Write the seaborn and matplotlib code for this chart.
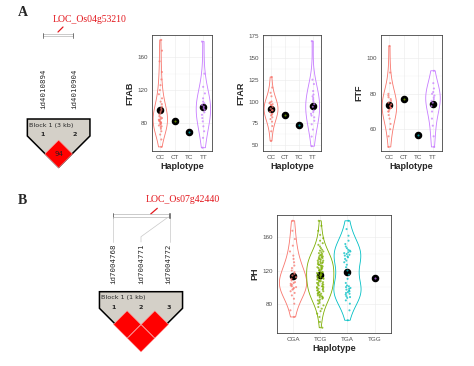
import numpy as np
import pandas as pd
import matplotlib
matplotlib.use("Agg")
import matplotlib.pyplot as plt
import seaborn as sns
from matplotlib.patches import Polygon

# ---- values ----
hap_a = ["CC", "CT", "TC", "TT"]
hap_b = ["CGA", "TCG", "TGA", "TGG"]

ftab_cc = [51, 60, 66, 70, 73, 75, 76, 77, 78, 79, 80, 80, 81, 82, 82, 83, 84, 84, 85, 86,
           87, 88, 90, 92, 94, 96, 98, 100, 103, 106, 110, 115, 120, 126, 133, 142, 155, 168, 181]
ftab_ct = [83]
ftab_tc = [69]
ftab_tt = [50, 62, 70, 76, 82, 86, 90, 93, 96, 98, 100, 102, 104, 106, 110, 116, 124, 140, 179]

ftar_cc = [55, 66, 72, 77, 80, 82, 84, 86, 88, 90, 92, 94, 96, 97, 98, 99, 100, 90, 85, 96,
           106, 110, 116, 128]
ftar_ct = [84.5]
ftar_tc = [73]
ftar_tt = [49, 60, 68, 74, 78, 82, 84, 86, 88, 90, 94, 97, 100, 102, 104, 106, 108, 112,
           120, 125, 169]

ftf_cc = [50, 56, 60, 63, 66, 68, 70, 71, 72, 73, 74, 75, 76, 77, 78, 79, 80, 70, 72, 86, 92, 107]
ftf_ct = [77]
ftf_tc = [57]
ftf_tt = [50, 56, 62, 66, 70, 73, 75, 76, 77, 78, 79, 80, 81, 83, 86, 93]

ph_cga = [64, 72, 80, 86, 90, 93, 95, 97, 98, 99, 100, 101, 102, 103, 104, 105, 106, 108, 110,
          112, 114, 116, 118, 120, 123, 126, 130, 134, 138, 143, 150, 158, 168, 180]
ph_tcg = [51, 58, 64, 68, 71, 74, 76, 78, 80, 81, 83, 84, 85, 86, 87, 88, 88, 89, 90, 90, 91,
          92, 92, 93, 94, 94, 95, 96, 96, 97, 98, 98, 99, 100, 100, 101, 101, 102, 103, 103,
          104, 105, 105, 106, 107, 107, 108, 109, 109, 110, 110, 111, 112, 112, 113, 114, 114,
          115, 115, 116, 117, 117, 118, 118, 119, 120, 120, 121, 121, 122, 123, 123, 124, 124,
          125, 126, 126, 127, 127, 128, 129, 129, 130, 130, 131, 132, 132, 133, 134, 134, 135,
          136, 136, 137, 138, 138, 139, 140, 141, 142, 143, 144, 145, 147, 149, 151, 153, 156,
          159, 163, 168, 174, 180]
ph_tga = [60, 72, 80, 84, 87, 88, 89, 91, 92, 93, 94, 95, 96, 97, 98, 99, 100, 101, 102, 105,
          110, 115, 120, 124, 127, 130, 132, 134, 136, 137, 138, 139, 140, 141, 142, 143, 144,
          145, 147, 149, 152, 156, 162, 170, 180]
ph_tgg = [111.5]

# LD block info
genes = ["LOC_Os04g53210", "LOC_Os07g42440"]
snps_a = ["id4010894", "id4010904"]
snps_b = ["id7004768", "id7004771", "id7004772"]
ld_a = {(0, 1): 94}
ld_b = {(0, 1): 100, (1, 2): 100, (0, 2): 100}

pal_a = dict(zip(hap_a, ["#F8766D", "#7CAE00", "#00BFC4", "#C77CFF"]))
pal_b = dict(zip(hap_b, ["#F8766D", "#7CAE00", "#00BFC4", "#C77CFF"]))


def long_df(order, groups):
    rows = [(h, v) for h, vals in zip(order, groups) for v in vals]
    return pd.DataFrame(rows, columns=["Haplotype", "value"])


def violin_panel(ax, df, order, pal, ylabel, ylim, yticks):
    multi = df.groupby("Haplotype").filter(lambda g: len(g) > 1)
    for v in yticks:
        ax.axhline(v, color="#ececec", lw=0.45, zorder=0)
    for v in np.array(yticks[:-1]) + (yticks[1] - yticks[0]) / 2:
        ax.axhline(v, color="#f5f5f5", lw=0.3, zorder=0)
    for i in range(len(order)):
        ax.axvline(i, color="#ececec", lw=0.45, zorder=0)
    sns.violinplot(data=multi, x="Haplotype", y="value", order=order, hue="Haplotype",
                   hue_order=order, palette=pal, fill=False, inner=None, cut=0,
                   density_norm="width", width=1.0, linewidth=0.6, bw_adjust=1.15,
                   dodge=False, legend=False, ax=ax)
    sns.stripplot(data=df, x="Haplotype", y="value", order=order, hue="Haplotype",
                  hue_order=order, palette=pal, size=1.5, jitter=0.12, alpha=0.75,
                  linewidth=0, legend=False, ax=ax)
    sns.pointplot(data=df, x="Haplotype", y="value", order=order, color="black",
                  errorbar=None, marker="o", linestyle="none", markersize=3.4, ax=ax)
    ax.set_xlim(-0.6, len(order) - 0.4)
    ax.set_ylim(*ylim)
    ax.set_yticks(yticks)
    ax.set_xlabel("Haplotype", fontsize=6.5, fontweight="bold", labelpad=1.5)
    ax.set_ylabel(ylabel, fontsize=6.5, fontweight="bold", labelpad=2)
    ax.tick_params(labelsize=4.5, colors="#4d4d4d", length=1.5, width=0.4, pad=1.5)
    for s in ax.spines.values():
        s.set_color("#444444")
        s.set_linewidth(0.6)


sns.set_theme(style="white")
plt.rcParams["font.family"] = ["Liberation Sans", "DejaVu Sans"]

W, H = 474, 366
fig = plt.figure(figsize=(W / 100, H / 100), dpi=100)


def box(l, t, r, b):
    return [l / W, 1 - b / H, (r - l) / W, (b - t) / H]


ax1 = fig.add_axes(box(151.7, 35, 212, 151))
ax2 = fig.add_axes(box(262.7, 35, 321, 151))
ax3 = fig.add_axes(box(380.7, 35, 441.7, 151))
ax4 = fig.add_axes(box(276.7, 215, 391, 332.7))

violin_panel(ax1, long_df(hap_a, [ftab_cc, ftab_ct, ftab_tc, ftab_tt]), hap_a, pal_a,
             "FTAB", (46, 187), [80, 120, 160])
violin_panel(ax2, long_df(hap_a, [ftar_cc, ftar_ct, ftar_tc, ftar_tt]), hap_a, pal_a,
             "FTAR", (43.5, 176), [50, 75, 100, 125, 150, 175])
violin_panel(ax3, long_df(hap_a, [ftf_cc, ftf_ct, ftf_tc, ftf_tt]), hap_a, pal_a,
             "FTF", (47.7, 113.2), [60, 80, 100])
violin_panel(ax4, long_df(hap_b, [ph_cga, ph_tcg, ph_tga, ph_tgg]), hap_b, pal_b,
             "PH", (45, 187), [80, 120, 160])

# ---- LD block drawings (pixel coordinates of the figure) ----
ov = fig.add_axes([0, 0, 1, 1], zorder=-1)
ov.set_xlim(0, W)
ov.set_ylim(H, 0)
ov.axis("off")

red = "#e3171d"
serif = ["Liberation Serif", "DejaVu Serif"]


def ld_block(letter, letter_xy, gene, gene_xy, slash, track, snps, xs, label_y, top, side,
             ld, block_txt, dia_half):
    ov.text(*letter_xy, letter, fontsize=10, fontweight="bold", family=serif,
            ha="center", va="center")
    ov.text(*gene_xy, gene, fontsize=7, color=red, family=serif, ha="left", va="center")
    ov.plot(slash[0], slash[1], color=red, lw=0.9)
    x0, x1, ty = track
    ov.plot([x0, x1, x1, x0, x0], [ty, ty, ty + 2.2, ty + 2.2, ty], color="#b5b5b5", lw=0.5)
    for x in (x0, x1):
        ov.plot([x, x], [ty - 1.5, ty + 3.5], color="#666666", lw=0.6)
    for x, s in zip(xs, snps):
        ov.text(x, label_y, s, rotation=90, fontsize=5.3,
                family=["DejaVu Sans Mono"], color="#2a2a2a", ha="center", va="center")
    half = (xs[1] - xs[0]) / 2
    left, right = xs[0] - half, xs[-1] + half
    bot = side + (right - left) / 2
    ov.add_patch(Polygon([(left, top), (right, top), (right, side), ((left + right) / 2, bot),
                          (left, side)], closed=True, facecolor="#d4d0c8",
                         edgecolor="black", lw=1.1, zorder=2))
    ov.text(left + 2, top + 6, block_txt, fontsize=4.6, family=["DejaVu Sans"],
            ha="left", va="center", zorder=3)
    for k, x in enumerate(xs):
        ov.text(x, side - 1, str(k + 1), fontsize=4.6, fontweight="bold",
                family=["DejaVu Sans"], ha="center", va="center", zorder=3)
    for (i, j), val in ld.items():
        cx = (xs[i] + xs[j]) / 2
        cy = side + 2.3 + (j - i) * half
        ov.add_patch(Polygon([(cx, cy - dia_half), (cx + dia_half, cy), (cx, cy + dia_half),
                              (cx - dia_half, cy)], closed=True, facecolor="#ff0000",
                             edgecolor="#ff9a9a", lw=0.4, zorder=3))
        if val < 100:
            ov.text(cx, cy, str(val), fontsize=5, color="#222222",
                    family=["DejaVu Sans"], ha="center", va="center", zorder=5)


ld_block("A", (23, 13), genes[0], (53, 20), ([58, 63], [32, 27]), (43, 73, 34),
         snps_a, [43, 74.3], 89, 119, 136, ld_a, "Block 1 (3 kb)", 13.8)
ld_block("B", (22.5, 201), genes[1], (146, 199.5), ([150.7, 157.3], [214, 208.3]),
         (113.3, 168.7, 214.3), snps_b, [113.3, 141, 168.7], 263.5, 291.7, 308.3, ld_b,
         "Block 1 (1 kb)", 13.6)
# lines from track to marker labels in B
for xa, xb in [(113.3, 113.3), (168.3, 141), (170, 170)]:
    ov.plot([xa, xb, xb], [217, 236.7, 242], color="#c8c8c8", lw=0.5)
ov.plot([169.7, 169.7], [212.8, 217.8], color="#666666", lw=0.6)

fig.savefig("out.png", dpi=100)
